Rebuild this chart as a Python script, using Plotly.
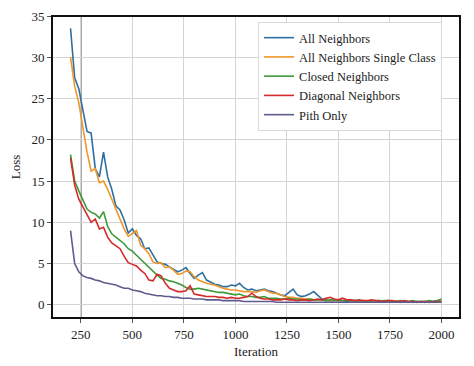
import plotly.graph_objects as go

iterations = list(range(200, 2001, 20))

all_neighbors = [
    33.5, 27.5, 26.2, 23.5, 21.0, 20.8, 16.5, 15.5, 18.5, 15.5,
    14.0, 12.0, 11.5, 10.3, 8.7, 9.2, 8.4, 8.0, 6.8, 6.9,
    6.0, 5.2, 5.0, 4.9, 4.6, 4.3, 4.0, 4.2, 4.5, 3.8,
    3.2, 3.6, 3.9, 3.0, 2.7, 2.5, 2.4, 2.2, 2.2, 2.4,
    2.3, 2.6, 2.1, 1.8, 1.9, 1.7, 1.8, 1.9, 1.7, 1.6,
    1.4, 1.2, 1.1, 1.5, 1.9, 1.2, 1.0, 1.1, 1.3, 1.6,
    1.1, 0.7, 0.6, 0.5, 0.5, 0.6, 0.5, 0.4, 0.5, 0.5,
    0.4, 0.5, 0.4, 0.4, 0.5, 0.4, 0.4, 0.5, 0.4, 0.4,
    0.3, 0.4, 0.4, 0.3, 0.4, 0.4, 0.3, 0.4, 0.4, 0.5,
    0.4,
]
single_class = [
    30.0, 26.5, 24.5, 21.5, 18.5, 16.2, 16.5, 14.8, 15.0, 14.0,
    12.8, 11.8, 10.5, 9.2, 8.3, 8.7, 9.0, 7.2, 6.8, 6.2,
    5.2, 5.0, 5.1, 4.5, 4.6, 4.2, 3.7, 3.8, 4.1, 4.0,
    3.4, 3.0, 2.8, 2.6, 2.5, 2.4, 2.2, 2.0, 1.9, 1.8,
    1.8, 1.7, 1.6, 1.6, 1.6, 1.5, 1.7, 1.8, 1.6, 1.4,
    1.4, 1.2, 1.0, 0.9, 0.9, 0.8, 0.8, 0.7, 0.7, 0.6,
    0.6, 0.6, 0.5, 0.5, 0.6, 0.5, 0.5, 0.6, 0.5, 0.5,
    0.5, 0.4, 0.5, 0.4, 0.4, 0.5, 0.4, 0.4, 0.4, 0.5,
    0.4, 0.4, 0.3, 0.4, 0.4, 0.3, 0.4, 0.4, 0.3, 0.4,
    0.4,
]
closed_neighbors = [
    18.2, 15.0, 13.8, 12.6, 11.6, 11.2, 11.0, 10.5, 11.3, 9.5,
    8.6, 8.2, 7.8, 7.4, 6.8, 6.5, 6.0, 5.5, 5.0, 4.6,
    4.0, 3.6, 3.2, 3.1, 2.9, 2.8, 2.6, 2.4, 2.1, 1.9,
    1.9, 2.0, 1.9, 1.8, 1.7, 1.6, 1.5, 1.5, 1.4, 1.3,
    1.2, 1.3, 1.1, 1.0, 1.0, 0.9, 0.9, 1.0, 0.8, 0.8,
    0.8, 0.7, 0.7, 0.8, 0.7, 0.7, 0.6, 0.6, 0.7, 0.6,
    0.6, 0.6, 0.5, 0.6, 0.6, 0.5, 0.5, 0.6, 0.5, 0.5,
    0.5, 0.5, 0.4, 0.5, 0.5, 0.4, 0.5, 0.5, 0.4, 0.4,
    0.5, 0.4, 0.4, 0.5, 0.4, 0.4, 0.4, 0.5, 0.4, 0.5,
    0.7,
]
diagonal_neighbors = [
    17.8, 14.5, 12.8, 11.8, 11.0, 10.0, 10.4, 9.2, 9.4, 8.2,
    7.5, 7.1, 6.8, 5.9, 5.1, 4.9, 4.7, 4.2, 3.8, 3.0,
    2.9, 3.7, 3.5, 2.6, 2.0, 1.8, 1.6, 1.6, 1.7, 2.3,
    1.3, 1.2, 1.1, 1.0, 1.0, 1.0, 0.9, 0.9, 0.8, 0.9,
    0.8, 0.8, 0.9, 1.0, 1.4, 1.0, 0.8, 0.7, 0.7, 0.6,
    0.6, 0.6, 0.7, 0.6, 0.6, 0.5, 0.6, 0.6, 0.5, 0.6,
    0.7, 0.6, 0.8, 0.9, 0.7, 0.6, 0.8, 0.6, 0.6, 0.5,
    0.6, 0.5, 0.5, 0.6, 0.5, 0.5, 0.4, 0.5, 0.5, 0.4,
    0.4, 0.5, 0.4, 0.4, 0.3, 0.4, 0.4, 0.3, 0.4, 0.4,
    0.4,
]
pith_only = [
    9.0, 5.0, 4.0, 3.5, 3.3, 3.2, 3.0, 2.9, 2.7, 2.6,
    2.5, 2.4, 2.2, 2.0, 2.0, 1.8, 1.7, 1.6, 1.4, 1.3,
    1.2, 1.1, 1.1, 1.0, 1.0, 0.9, 0.9, 0.8, 0.8, 0.8,
    0.7, 0.7, 0.7, 0.6, 0.6, 0.6, 0.6, 0.5, 0.5, 0.5,
    0.5, 0.5, 0.4, 0.4, 0.4, 0.4, 0.4, 0.4, 0.4, 0.4,
    0.3, 0.3, 0.3, 0.3, 0.3, 0.3, 0.3, 0.3, 0.3, 0.3,
    0.3, 0.3, 0.3, 0.3, 0.3, 0.3, 0.3, 0.3, 0.3, 0.3,
    0.3, 0.3, 0.3, 0.3, 0.3, 0.3, 0.3, 0.3, 0.3, 0.3,
    0.3, 0.3, 0.3, 0.3, 0.3, 0.3, 0.3, 0.3, 0.3, 0.3,
    0.3,
]

series_names = ["All Neighbors", "All Neighbors Single Class", "Closed Neighbors",
                "Diagonal Neighbors", "Pith Only"]
series_values = [all_neighbors, single_class, closed_neighbors, diagonal_neighbors, pith_only]
series_colors = ["#2f6f9f", "#f0962a", "#3f9a3a", "#d42a2a", "#5e5b8e"]

x_ticks = [250, 500, 750, 1000, 1250, 1500, 1750, 2000]
y_ticks = [0, 5, 10, 15, 20, 25, 30, 35]

fig = go.Figure()
for name, vals, col in zip(series_names, series_values, series_colors):
    fig.add_trace(go.Scatter(x=iterations, y=vals, mode="lines", name=name,
                             line=dict(color=col, width=1.6)))

fig.add_shape(type="line", xref="x", yref="paper", x0=250, x1=250, y0=0, y1=1,
              line=dict(color="#7a7a7a", width=1.6), layer="below")
fig.add_shape(type="rect", xref="paper", yref="paper", x0=0, x1=1, y0=0, y1=1,
              line=dict(color="#111", width=2), fillcolor="rgba(0,0,0,0)", layer="above")

font_family = "Liberation Serif"
fig.update_layout(
    width=474, height=366,
    margin=dict(l=44, r=22, t=8, b=56),
    paper_bgcolor="white", plot_bgcolor="white",
    font=dict(family=font_family, size=13, color="#222"),
    showlegend=True,
    legend=dict(x=0.505, y=0.98, xanchor="left", yanchor="top",
                bgcolor="white", bordercolor="#d8d8d8", borderwidth=1,
                font=dict(family=font_family, size=12.5, color="#222"),
                tracegroupgap=0, itemwidth=30),
    xaxis=dict(range=[110, 2090], tickvals=x_ticks, showgrid=True, gridcolor="#d4d4d4",
               gridwidth=1, showline=False,
               ticks="outside", ticklen=4, tickcolor="#555", zeroline=False,
               automargin=False,
               title=dict(text="Iteration", standoff=6,
                          font=dict(family=font_family, size=13)),
               tickfont=dict(family=font_family, size=13)),
    yaxis=dict(range=[-1.6, 35], tickvals=y_ticks, showgrid=True, gridcolor="#d4d4d4",
               gridwidth=1, showline=False,
               ticks="outside", ticklen=4, tickcolor="#555", zeroline=False,
               automargin=False,
               title=dict(text="Loss", standoff=8,
                          font=dict(family=font_family, size=13)),
               tickfont=dict(family=font_family, size=13)),
)

fig.write_html("out.html")
